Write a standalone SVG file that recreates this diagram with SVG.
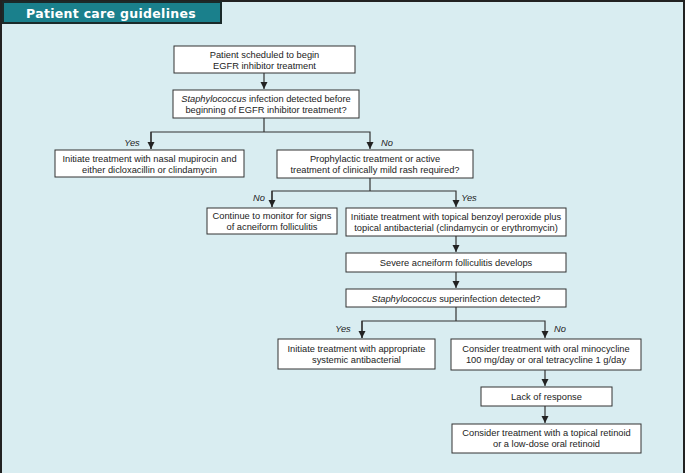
<svg xmlns="http://www.w3.org/2000/svg" width="685" height="473" viewBox="0 0 685 473">
<defs>
<style>
.bx{fill:#ffffff;stroke:#333333;stroke-width:1}
.t{font-family:"Liberation Sans",Arial,sans-serif;font-size:9.3px;fill:#222222;text-anchor:middle}
.lb{font-family:"Liberation Sans",Arial,sans-serif;font-size:9.3px;font-style:italic;fill:#222222;text-anchor:middle}
.c{fill:none;stroke:#333333;stroke-width:1.2}
</style>
<marker id="ah" markerWidth="8" markerHeight="8" refX="7" refY="4" orient="auto" markerUnits="userSpaceOnUse">
<path d="M0,0.5 L7,4 L0,7.5 Z" fill="#222222"/>
</marker>
</defs>
<rect x="0" y="0" width="685" height="473" fill="#d9edf1"/>
<path d="M1,473 L1,1 L684,1 L684,473" fill="none" stroke="#222222" stroke-width="2"/>
<g id="title">
<rect x="3" y="2" width="218" height="21" fill="#1a808c" stroke="#1a2a2a" stroke-width="2"/>
<text x="111" y="17.5" font-family="'DejaVu Sans',Verdana,sans-serif" font-weight="bold" font-size="12.5px" fill="#ffffff" text-anchor="middle" letter-spacing="0.3">Patient care guidelines</text>
</g>
<g id="connectors">
<line class="c" x1="264" y1="73" x2="264" y2="89" marker-end="url(#ah)"/>
<polyline class="c" points="264,118 264,132"/>
<polyline class="c" points="151,149 151,132 370,132 370,149" marker-end="url(#ah)"/>
<line class="c" x1="151" y1="132" x2="151" y2="149" marker-end="url(#ah)"/>
<polyline class="c" points="370,178 370,191"/>
<polyline class="c" points="272,207 272,191 456,191 456,207" marker-end="url(#ah)"/>
<line class="c" x1="272" y1="191" x2="272" y2="207" marker-end="url(#ah)"/>
<line class="c" x1="456" y1="236" x2="456" y2="252" marker-end="url(#ah)"/>
<line class="c" x1="456" y1="272" x2="456" y2="288" marker-end="url(#ah)"/>
<polyline class="c" points="456,307 456,321"/>
<polyline class="c" points="362,338 362,321 545,321 545,338" marker-end="url(#ah)"/>
<line class="c" x1="362" y1="321" x2="362" y2="338" marker-end="url(#ah)"/>
<line class="c" x1="545" y1="370" x2="545" y2="386" marker-end="url(#ah)"/>
<line class="c" x1="545" y1="406" x2="545" y2="423" marker-end="url(#ah)"/>
<text class="lb" x="132" y="146">Yes</text>
<text class="lb" x="387" y="146">No</text>
<text class="lb" x="259" y="201">No</text>
<text class="lb" x="469" y="201">Yes</text>
<text class="lb" x="343" y="332">Yes</text>
<text class="lb" x="560" y="332">No</text>
</g>
<g id="n1">
<rect class="bx" x="174" y="46" width="181" height="27"/>
<text class="t" x="264.5" y="57.5">Patient scheduled to begin</text>
<text class="t" x="264.5" y="68.5">EGFR inhibitor treatment</text>
</g>
<g id="n2">
<rect class="bx" x="173" y="90" width="186" height="28"/>
<text class="t" x="266" y="101.5"><tspan font-style="italic">Staphylococcus</tspan> infection detected before</text>
<text class="t" x="266" y="112.5">beginning of EGFR inhibitor treatment?</text>
</g>
<g id="n3">
<rect class="bx" x="55" y="150" width="189" height="27"/>
<text class="t" x="149.5" y="161.5">Initiate treatment with nasal mupirocin and</text>
<text class="t" x="149.5" y="172.5">either dicloxacillin or clindamycin</text>
</g>
<g id="n4">
<rect class="bx" x="277" y="150" width="196" height="28"/>
<text class="t" x="375" y="161.5">Prophylactic treatment or active</text>
<text class="t" x="375" y="172.5">treatment of clinically mild rash required?</text>
</g>
<g id="n5">
<rect class="bx" x="207" y="208" width="130" height="26"/>
<text class="t" x="272" y="219">Continue to monitor for signs</text>
<text class="t" x="272" y="230">of acneiform folliculitis</text>
</g>
<g id="n6">
<rect class="bx" x="346" y="208" width="220" height="28"/>
<text class="t" x="456" y="219.5">Initiate treatment with topical benzoyl peroxide plus</text>
<text class="t" x="456" y="230.5">topical antibacterial (clindamycin or erythromycin)</text>
</g>
<g id="n7">
<rect class="bx" x="346" y="253" width="220" height="19"/>
<text class="t" x="456" y="266">Severe acneiform folliculitis develops</text>
</g>
<g id="n8">
<rect class="bx" x="346" y="289" width="220" height="18"/>
<text class="t" x="456" y="301.5"><tspan font-style="italic">Staphylococcus</tspan> superinfection detected?</text>
</g>
<g id="n9">
<rect class="bx" x="278" y="339" width="157" height="30"/>
<text class="t" x="356.5" y="351.5">Initiate treatment with appropriate</text>
<text class="t" x="356.5" y="362.5">systemic antibacterial</text>
</g>
<g id="n10">
<rect class="bx" x="451" y="339" width="190" height="31"/>
<text class="t" x="546" y="351.5">Consider treatment with oral minocycline</text>
<text class="t" x="546" y="362.5">100 mg/day or oral tetracycline 1 g/day</text>
</g>
<g id="n11">
<rect class="bx" x="481" y="387" width="131" height="19"/>
<text class="t" x="546.5" y="400">Lack of response</text>
</g>
<g id="n12">
<rect class="bx" x="452" y="424" width="189" height="29"/>
<text class="t" x="546.5" y="436">Consider treatment with a topical retinoid</text>
<text class="t" x="546.5" y="447">or a low-dose oral retinoid</text>
</g>
</svg>
